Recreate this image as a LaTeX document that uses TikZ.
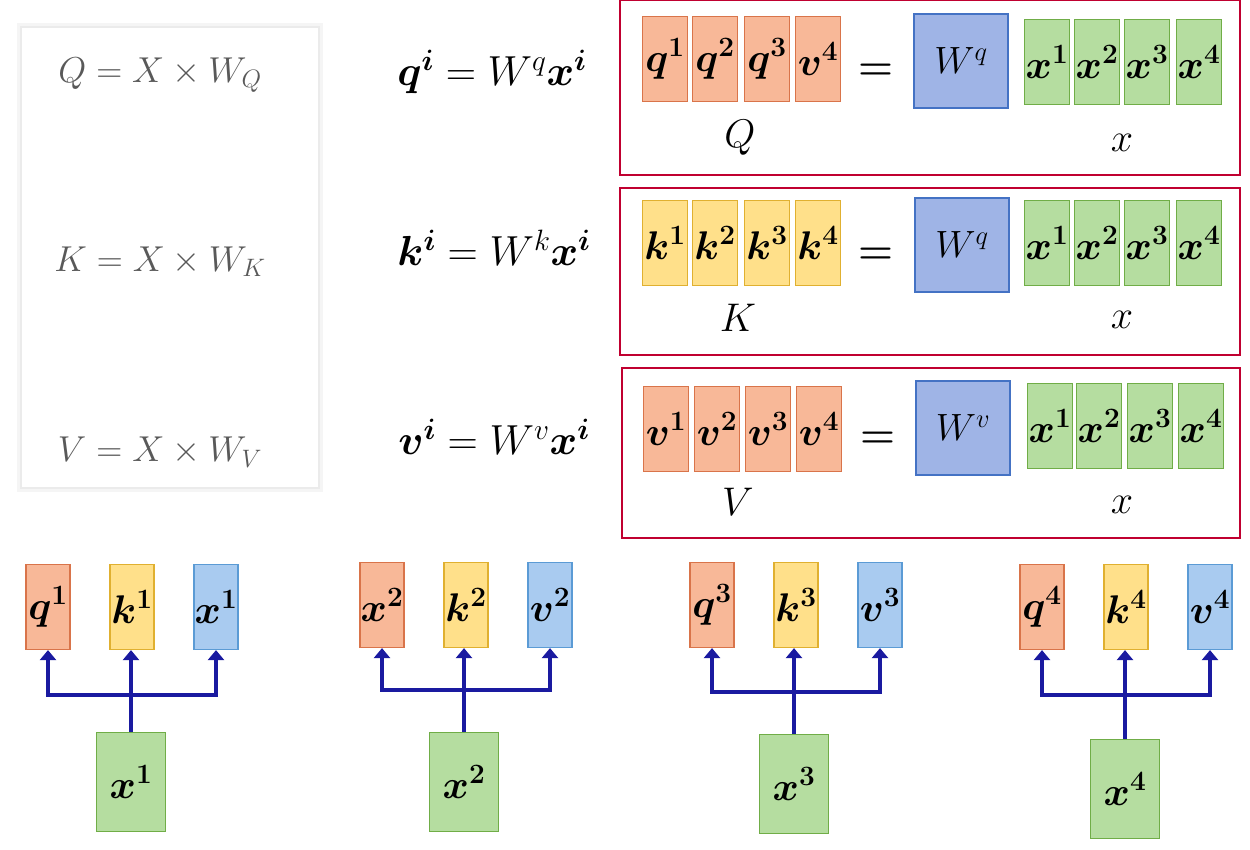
\RequirePackage{fix-cm}
\documentclass[tikz,border=0pt]{standalone}
\usepackage{amsmath}
\usetikzlibrary{arrows.meta}
\definecolor{orF}{HTML}{F8B898}\definecolor{orD}{HTML}{D9744A}
\definecolor{yeF}{HTML}{FFE08A}\definecolor{yeD}{HTML}{E0B030}
\definecolor{blF}{HTML}{A9CBF0}\definecolor{blD}{HTML}{5B9BD5}
\definecolor{grF}{HTML}{B5DDA0}\definecolor{grD}{HTML}{70AD47}
\definecolor{wF}{HTML}{9FB4E6}\definecolor{wD}{HTML}{4472C4}
\definecolor{arr}{HTML}{1A1AA0}\definecolor{redb}{HTML}{C00030}
\begin{document}
\begin{tikzpicture}[x=1pt,y=-1pt,
 cell/.style={draw=#1D,fill=#1F,line width=1.2pt,minimum width=45pt,minimum height=85pt,inner sep=0pt,font=\fontsize{40}{42}\selectfont\boldmath},
 big/.style={draw=grD,fill=grF,line width=1.2pt,minimum width=69pt,minimum height=99pt,inner sep=0pt,font=\fontsize{40}{42}\selectfont\boldmath},
 wbox/.style={draw=wD,fill=wF,line width=1.2pt,minimum width=94pt,minimum height=94pt,inner sep=0pt,font=\fontsize{38}{40}\selectfont},
 eq/.style={font=\fontsize{42}{44}\selectfont},
 eqs/.style={font=\fontsize{40}{42}\selectfont\bfseries},
 lab/.style={font=\fontsize{40}{42}\selectfont},
 red/.style={draw=redb,line width=2pt},
 gl/.style={font=\fontsize{36}{38}\selectfont,text=black!65},
 ar/.style={draw=arr,line width=4pt,-{Triangle[length=10pt,width=16pt]}}]
\useasboundingbox (0,0) rectangle (1250,850);
% left panel
\fill[black!4] (17,23) rectangle (323,492);
\fill[black!8] (20,26) rectangle (320,489);
\node[draw=none,fill=white,minimum width=296pt,minimum height=459pt,inner sep=0pt] (panel) at (170,257.5) {};
\node[gl] (fq) at (160,75) {$Q = X \times W_Q$};
\node[gl] (fk) at (160,262) {$K = X \times W_K$};
\node[gl] (fv) at (160,452) {$V = X \times W_V$};
% equations
\node[eq] (eq1) at (492,72) {$\boldsymbol{q^i} = W^q \boldsymbol{x^i}$};
\node[eq] (eq2) at (494,248) {$\boldsymbol{k^i} = W^k \boldsymbol{x^i}$};
\node[eq] (eq3) at (494,437) {$\boldsymbol{v^i} = W^v \boldsymbol{x^i}$};
% red boxes
\draw[red] (620,0) rectangle (1240,175);
\draw[red] (620,188) rectangle (1240,355);
\draw[red] (622,368) rectangle (1240,538);
% row 1
\foreach \i/\x/\t in {1/665/q^1,2/715/q^2,3/767/q^3,4/818/v^4}{\node[cell=or] (a\i) at (\x,59) {$\t$};}
\node[eqs] (e1) at (876,72) {=};
\node[wbox] (w1) at (961,61) {$W^q$};
\foreach \i/\x in {1/1047,2/1097,3/1147,4/1199}{\node[cell=gr] (b\i) at (\x,62) {$x^{\i}$};}
\node[lab] (Q) at (740,138) {$Q$};
\node[lab] (X1) at (1122,143) {$x$};
% row 2
\foreach \i/\x in {1/665,2/715,3/767,4/818}{\node[cell=ye] (c\i) at (\x,243) {$k^{\i}$};}
\node[eqs] (e2) at (876,256) {=};
\node[wbox] (w2) at (962,245) {$W^q$};
\foreach \i/\x in {1/1047,2/1097,3/1147,4/1199}{\node[cell=gr] (d\i) at (\x,243) {$x^{\i}$};}
\node[lab] (K) at (738,318) {$K$};
\node[lab] (X2) at (1122,320) {$x$};
% row 3
\foreach \i/\x in {1/666,2/717,3/768,4/819}{\node[cell=or] (f\i) at (\x,429) {$v^{\i}$};}
\node[eqs] (e3) at (878,440) {=};
\node[wbox] (w3) at (963,428) {$W^v$};
\foreach \i/\x in {1/1050,2/1099,3/1150,4/1201}{\node[cell=gr] (g\i) at (\x,426) {$x^{\i}$};}
\node[lab] (V) at (738,502) {$V$};
\node[lab] (X3) at (1122,505) {$x$};
% bottom groups
\foreach \n/\ax/\ay/\at/\bcol/\bt/\ccol/\ct/\bx/\by/\bary in {
 1/48/607/q^1/ye/k^1/bl/x^1/131/782/695,
 2/382/605/x^2/ye/k^2/bl/v^2/464/782/690,
 3/712/605/q^3/ye/k^3/bl/v^3/794/784/692,
 4/1042/607/q^4/ye/k^4/bl/v^4/1125/789/695}{
 \node[cell=or,minimum width=44pt] (p\n) at (\ax,\ay) {$\at$};
 \node[cell=\bcol,minimum width=44pt] (r\n) at (\ax+84,\ay) {$\bt$};
 \node[cell=\ccol,minimum width=44pt] (s\n) at (\ax+168,\ay) {$\ct$};
 \node[big] (x\n) at (\bx,\by) {$x^{\n}$};
 \coordinate (j\n) at (\bx,\bary);
 \draw[draw=arr,line width=4pt] (x\n.north) -- (j\n);
 \draw[ar] (j\n) -| (p\n.south);
 \draw[ar] (j\n) -| (s\n.south);
 \draw[ar] (j\n) -- (j\n |- r\n.south);
}
\end{tikzpicture}
\end{document}
